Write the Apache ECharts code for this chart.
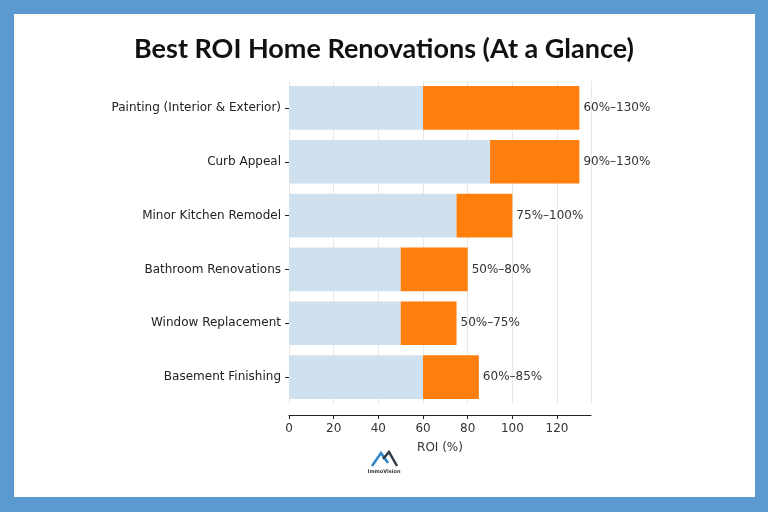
<!DOCTYPE html>
<html><head><meta charset="utf-8">
<script src="https://cdn.jsdelivr.net/npm/echarts@6/dist/echarts.min.js"></script>
<style>html,body{margin:0;padding:0;background:#5a9acf;}#c{width:768px;height:512px;}</style>
</head><body><div id="c"></div>
<script>
const categories = ["Painting (Interior & Exterior)", "Curb Appeal", "Minor Kitchen Remodel", "Bathroom Renovations", "Window Replacement", "Basement Finishing"];
const roiMin = [60, 90, 75, 50, 50, 60];
const roiMax = [130, 130, 100, 80, 75, 85];
const xTicks = [0, 20, 40, 60, 80, 100, 120];

const chart = echarts.init(document.getElementById('c'));
const rangeLabels = roiMin.map((v, i) => v + '%\u2013' + roiMax[i] + '%');
chart.setOption({
  animation: false,
  backgroundColor: 'transparent',
  graphic: [
    {type: 'rect', shape: {x: 14, y: 14, width: 741, height: 483}, style: {fill: '#ffffff'}, z: -10},
    {type: 'text', left: 'center', top: 36, style: {text: 'Best ROI Home Renovations (At a Glance)', font: 'bold 27px Lato', fill: '#111'}},
    {type: 'polyline', shape: {points: [[372, 466], [381, 453], [388, 463]]}, style: {stroke: '#2e86c9', lineWidth: 2.5, fill: null}},
    {type: 'polyline', shape: {points: [[383, 459], [389, 452], [397, 466]]}, style: {stroke: '#333a44', lineWidth: 2.5, fill: null}},
    {type: 'text', x: 384, y: 469, style: {text: 'ImmoVision', font: 'bold 5px "DejaVu Sans"', fill: '#333', textAlign: 'center'}}
  ],
  grid: {left: 289, right: 177, top: 81, bottom: 108},
  xAxis: {
    type: 'value', min: 0, max: 135.2, interval: 20, offset: 11,
    axisLine: {show: true, lineStyle: {color: '#222', width: 1}},
    axisTick: {show: true, length: 4, lineStyle: {color: '#222'}},
    axisLabel: {color: '#333', fontSize: 12, fontFamily: 'DejaVu Sans', margin: 8, showMaxLabel: false,
      formatter: v => xTicks.includes(v) ? String(v) : ''},
    splitLine: {show: true, lineStyle: {color: '#e8e8e8', width: 1}},
    name: 'ROI (%)', nameLocation: 'middle', nameGap: 27,
    nameTextStyle: {color: '#333', fontSize: 12, fontFamily: 'DejaVu Sans'}
  },
  yAxis: {
    type: 'category', data: categories, inverse: true,
    axisLine: {show: false},
    axisTick: {show: true, alignWithLabel: true, length: 4, inside: false, lineStyle: {color: '#222'}},
    axisLabel: {color: '#222', fontSize: 12, fontFamily: 'DejaVu Sans', margin: 8}
  },
  series: [
    {type: 'bar', stack: 'r', data: roiMin, barWidth: '81%', itemStyle: {color: '#cfe1ee'}, silent: true},
    {type: 'bar', stack: 'r', data: roiMax.map((v, i) => v - roiMin[i]), barWidth: '81%', itemStyle: {color: '#ff7f0e'},
      label: {show: true, position: 'right', distance: 4, color: '#333', fontSize: 12, fontFamily: 'DejaVu Sans',
        formatter: p => rangeLabels[p.dataIndex]}}
  ]
});
</script></body></html>
